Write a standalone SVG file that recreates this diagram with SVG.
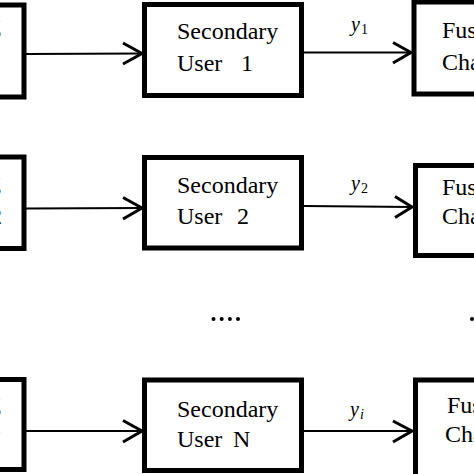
<svg xmlns="http://www.w3.org/2000/svg" width="474" height="474" viewBox="0 0 474 474">
<style>
.box{fill:#fff;stroke:#000;stroke-width:5}
.t{font-family:"Liberation Serif","Times New Roman",serif;font-size:24px;fill:#000}
.e{font-family:"Liberation Serif","Times New Roman",serif;font-size:24px;fill:#555}
.v{font-family:"Liberation Serif","Times New Roman",serif;font-style:italic;font-size:20px;fill:#000}
.s{font-family:"Liberation Serif","Times New Roman",serif;font-style:normal;font-size:14px;fill:#000}
.ln{stroke:#000;stroke-width:2.2;fill:none}
.ah{stroke:#000;stroke-width:3;fill:none;stroke-linejoin:miter}
.dot{fill:#000}
</style>
<rect width="474" height="474" fill="#fff"/>
<g id="src1"><rect class="box" x="-100" y="5" width="124" height="92"/><text class="e" x="1" y="33" text-anchor="end">g</text><text class="e" x="0.5" y="71" text-anchor="end">1</text></g>
<g id="src2"><rect class="box" x="-100" y="157" width="124" height="91.5"/><text class="e" x="1" y="190" text-anchor="end">g</text><text class="t" x="2" y="224" text-anchor="end">2</text></g>
<g id="src3"><rect class="box" x="-100" y="379.5" width="124" height="90"/><text class="e" x="1" y="411" text-anchor="end">g</text><text class="e" x="0.5" y="447" text-anchor="end">N</text></g>
<g id="su1"><rect class="box" x="144.5" y="4.5" width="157" height="91"/><text class="t" x="177" y="39">Secondary</text><text class="t" x="177" y="71">User<tspan x="241">1</tspan></text></g>
<g id="su2"><rect class="box" x="144.5" y="157.5" width="157" height="90.5"/><text class="t" x="177" y="193">Secondary</text><text class="t" x="177" y="224">User<tspan x="237">2</tspan></text></g>
<g id="su3"><rect class="box" x="144.5" y="380" width="157" height="90.5"/><text class="t" x="177" y="417">Secondary</text><text class="t" x="177" y="447">User<tspan x="233">N</tspan></text></g>
<g id="fc1"><rect class="box" x="414" y="2" width="100" height="92"/><text class="t" x="442" y="38">Fusion</text><text class="t" x="442" y="70">Channel</text></g>
<g id="fc2"><rect class="box" x="415.5" y="165.5" width="100" height="90"/><text class="t" x="442" y="195">Fusion</text><text class="t" x="442" y="224">Channel</text></g>
<g id="fc3"><rect class="box" x="415.5" y="380" width="100" height="120"/><text class="t" x="447" y="413">Fusion</text><text class="t" x="445" y="442">Channel</text></g>
<g id="connectors">
<line class="ln" x1="26" y1="54" x2="142" y2="53.5"/><polyline class="ah" points="123,43 142,53.5 123,64"/>
<line class="ln" x1="304" y1="52.5" x2="411" y2="52.5"/><polyline class="ah" points="393,42.5 411,52.5 393,63"/>
<line class="ln" x1="26" y1="208.5" x2="142" y2="208"/><polyline class="ah" points="123,197.5 142,208 123,219"/>
<line class="ln" x1="304" y1="206" x2="412" y2="207"/><polyline class="ah" points="395,196.5 412,207 395,217.5"/>
<line class="ln" x1="26" y1="431" x2="142" y2="431"/><polyline class="ah" points="123,420.5 142,431 123,442"/>
<line class="ln" x1="304" y1="431" x2="412" y2="431"/><polyline class="ah" points="393,421 412,431 393,442"/>
</g>
<g id="labels">
<text class="v" x="351" y="31">y<tspan class="s" dx="1" dy="3">1</tspan></text>
<text class="v" x="351" y="190">y<tspan class="s" dx="1" dy="3">2</tspan></text>
<text class="v" x="350" y="416">y<tspan class="s" dx="1" dy="3" style="font-style:italic">i</tspan></text>
</g>
<g id="ellipsis">
<circle class="dot" cx="213.5" cy="319" r="2"/><circle class="dot" cx="221.7" cy="319" r="2"/><circle class="dot" cx="229.9" cy="319" r="2"/><circle class="dot" cx="238" cy="319" r="2"/>
<circle class="dot" cx="472" cy="319" r="2"/>
</g>
</svg>
